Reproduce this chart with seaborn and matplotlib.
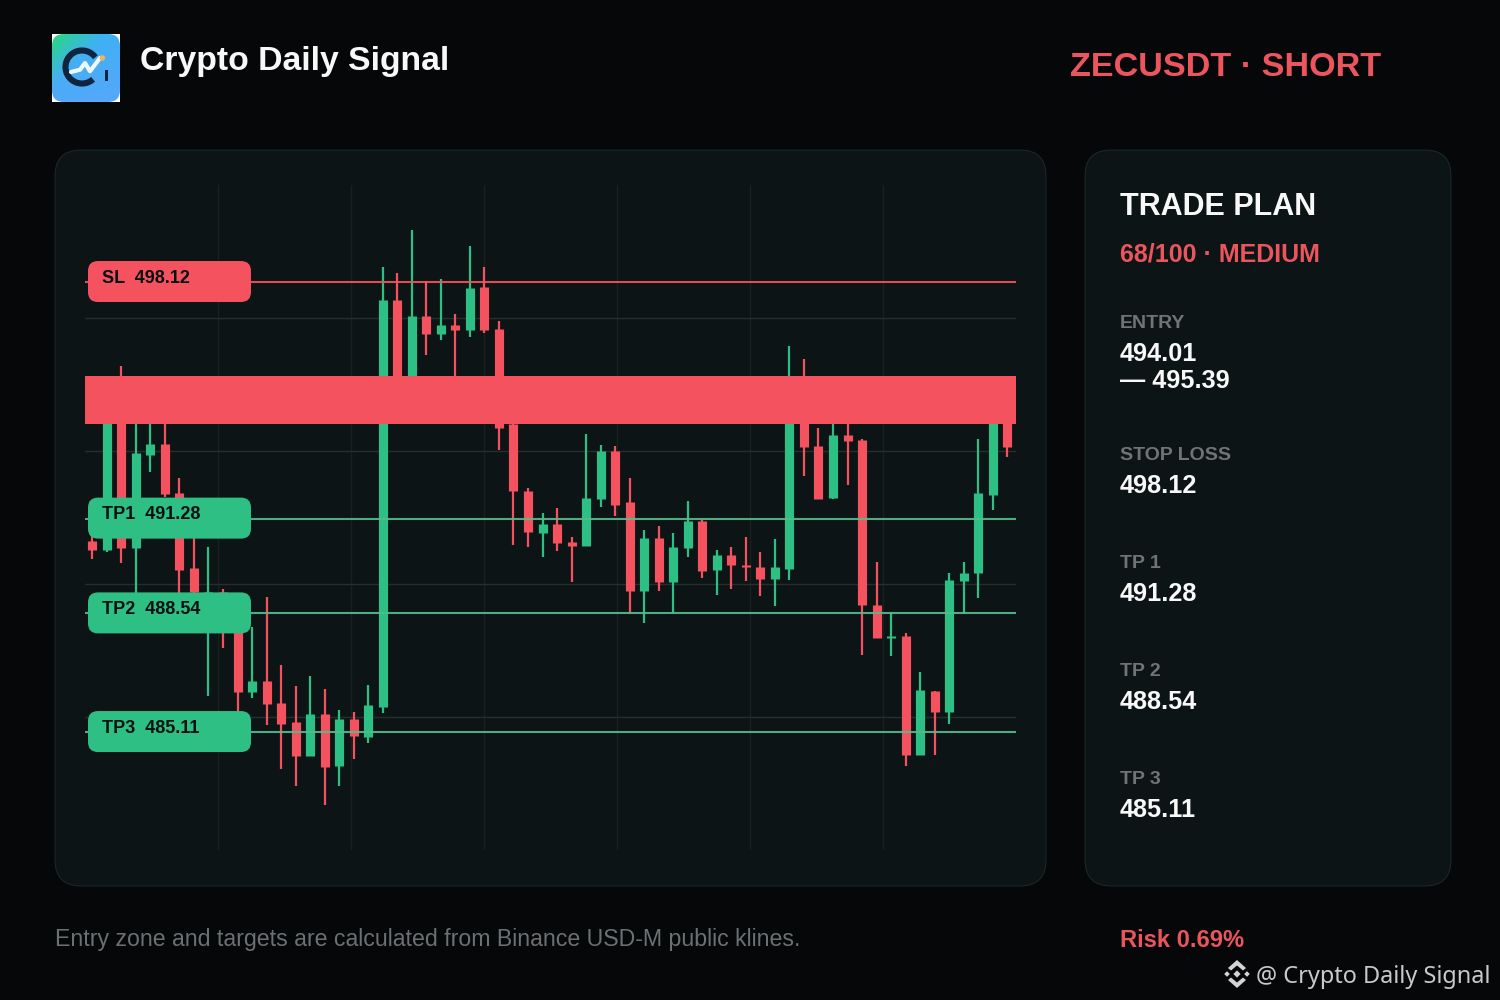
import numpy as np
import pandas as pd
import matplotlib
matplotlib.use("Agg")
import matplotlib.pyplot as plt
from matplotlib.patches import FancyBboxPatch, Polygon, Arc, Circle, Rectangle
import seaborn as sns

# candles
opens = [490.63, 490.37, 495.14, 490.43, 493.12, 493.44, 492.02, 489.85, 488.99, 489.16, 488.20, 486.27, 486.59, 485.95, 485.40, 484.42,
         485.63, 484.13, 485.49, 484.97, 485.83, 497.60, 494.71, 497.14, 496.62, 496.88, 496.73, 497.98, 496.76, 494.02, 492.08, 490.86,
         491.12, 490.60, 490.49, 491.85, 493.23, 491.76, 489.19, 490.72, 489.45, 490.43, 491.21, 489.79, 490.23, 489.94, 489.88, 489.53,
         489.82, 494.71, 493.38, 491.88, 493.70, 493.55, 488.78, 487.83, 487.89, 484.45, 486.30, 485.69, 489.48, 489.71, 491.96, 494.71]
highs = [490.89, 495.00, 495.69, 494.13, 494.13, 494.13, 492.45, 490.95, 490.46, 489.25, 488.55, 488.15, 489.01, 487.05, 486.44, 486.73,
         486.35, 485.75, 485.69, 486.47, 498.55, 498.38, 499.62, 498.15, 498.21, 497.20, 499.16, 498.55, 496.99, 494.13, 492.16, 491.44,
         491.59, 490.75, 493.73, 493.41, 493.38, 492.45, 490.95, 491.07, 490.86, 491.79, 491.25, 490.37, 490.46, 490.75, 490.31, 490.69,
         496.27, 495.89, 493.90, 494.13, 494.13, 493.58, 490.03, 488.58, 487.97, 486.85, 486.30, 489.71, 490.03, 493.58, 494.30, 494.85]
lows = [490.11, 490.31, 490.00, 489.07, 492.63, 491.90, 489.04, 488.93, 486.15, 487.54, 485.60, 486.09, 485.31, 484.04, 483.55, 484.42,
        483.00, 483.55, 484.33, 484.79, 485.66, 494.56, 494.42, 496.01, 496.44, 494.85, 496.53, 496.65, 493.26, 490.52, 490.46, 490.17,
        490.34, 489.45, 490.49, 491.62, 491.36, 488.55, 488.26, 489.19, 488.55, 490.17, 489.56, 489.07, 489.25, 489.48, 489.04, 488.75,
        489.51, 492.51, 491.85, 491.85, 492.25, 487.34, 487.83, 487.31, 484.13, 484.45, 484.45, 485.34, 488.52, 488.99, 491.53, 493.06]
closes = [490.37, 494.71, 490.43, 493.18, 493.44, 491.99, 489.79, 489.16, 489.16, 488.35, 486.27, 486.59, 485.92, 485.34, 484.42, 485.63,
          484.10, 485.49, 484.99, 485.89, 497.60, 494.85, 497.14, 496.62, 496.88, 496.73, 497.95, 496.73, 493.90, 492.08, 490.89, 491.12,
          490.57, 490.49, 491.88, 493.23, 491.67, 489.19, 490.72, 489.45, 490.46, 491.21, 489.77, 490.23, 489.94, 489.88, 489.53, 489.88,
          495.14, 493.35, 491.85, 493.70, 493.52, 488.78, 487.83, 487.89, 484.45, 486.33, 485.69, 489.51, 489.71, 492.02, 494.13, 493.35]

entry_low, entry_high = 494.01, 495.39
level_names = ["SL", "TP1", "TP2", "TP3"]
level_values = [498.12, 491.28, 488.54, 485.11]

plan_labels = ["STOP LOSS", "TP 1", "TP 2", "TP 3"]
plan_values = ["498.12", "491.28", "488.54", "485.11"]

BG = "#050709"
PANEL = "#0c1415"
EDGE = "#1f2a29"
RED = "#f5525f"
RED_TEXT = "#ea555e"
GREEN = "#2ebf85"
GREY = "#6f7575"
WHITE = "#f8f8f8"
BOLD = "Liberation Sans"

sns.set_theme(style="dark")
plt.rcParams["font.family"] = ["Liberation Sans", "DejaVu Sans"]

fig = plt.figure(figsize=(15, 10), dpi=100, facecolor=BG)

# page overlay in pixels for panels and text
bg = fig.add_axes([0, 0, 1, 1], zorder=0)
bg.set_xlim(0, 1500)
bg.set_ylim(1000, 0)
bg.axis("off")
for x0, y0, x1, y1 in [(55, 150, 1046, 886), (1085, 150, 1451, 886)]:
    bg.add_patch(FancyBboxPatch((x0 + 26, y0 + 26), x1 - x0 - 52, y1 - y0 - 52,
                                boxstyle="round,pad=26,rounding_size=26",
                                fc=PANEL, ec=EDGE, lw=0.7))

# candles
df = pd.DataFrame({"i": np.arange(len(opens)), "open": opens, "high": highs, "low": lows, "close": closes})
df["dir"] = np.where(df["close"] >= df["open"], "up", "down")
palette = {"up": GREEN, "down": RED}
wicks = df.melt(id_vars=["i", "dir"], value_vars=["high", "low"], value_name="price")
bodies = df.melt(id_vars=["i", "dir"], value_vars=["open", "close"], value_name="price")

ax = fig.add_axes([85 / 1500, 150 / 1000, 931 / 1500, 665 / 1000], zorder=1)
ax.patch.set_alpha(0)
sns.lineplot(data=wicks, x="i", y="price", hue="dir", units="i", estimator=None, palette=palette,
             linewidth=1.6, legend=False, ax=ax, zorder=2, solid_capstyle="butt")
sns.lineplot(data=bodies, x="i", y="price", hue="dir", units="i", estimator=None, palette=palette,
             linewidth=6.6, legend=False, ax=ax, zorder=2.1, solid_capstyle="butt")

ax.set_xlim(-0.5, 63.6)
ax.set_ylim(481.70, 500.925)
ax.axhspan(entry_low, entry_high, color=RED, lw=0, zorder=4)
for name, val in zip(level_names, level_values):
    ax.axhline(val, color=RED if name == "SL" else "#55bb8b", lw=1.5, zorder=3, alpha=0.92)

ax.set_xticks(np.linspace(-0.5, 63.6, 8)[1:-1])
ax.set_yticks(np.linspace(481.70, 500.925, 6)[1:-1])
ax.tick_params(length=0, labelbottom=False, labelleft=False)
ax.set_xlabel("")
ax.set_ylabel("")
ax.grid(axis="x", color="#18211f", lw=1)
ax.grid(axis="y", color="#262f2e", lw=1)
ax.set_axisbelow(True)
sns.despine(ax=ax, left=True, bottom=True)

# top overlay for labels and text
top = fig.add_axes([0, 0, 1, 1], zorder=2)
top.set_xlim(0, 1500)
top.set_ylim(1000, 0)
top.axis("off")

for name, val in zip(level_names, level_values):
    y = 1000 - ax.transData.transform((0, val))[1]
    col = RED if name == "SL" else GREEN
    top.add_patch(FancyBboxPatch((98, y - 11), 143, 21, boxstyle="round,pad=10,rounding_size=10",
                                 fc=col, ec="none"))
    top.text(102, y + 0.5, f"{name}  {val:.2f}", color="#0b1112", fontsize=13, fontweight="bold",
             family=BOLD, va="baseline")

top.text(140.5, 70, "Crypto Daily Signal", color=WHITE, fontsize=24.3, fontweight="bold", family=BOLD)
top.text(1069.5, 76, "ZECUSDT · SHORT", color=RED_TEXT, fontsize=24.6, fontweight="bold", family=BOLD)
top.text(1120, 215, "TRADE PLAN", color=WHITE, fontsize=22, fontweight="bold", family=BOLD)
top.text(1120, 261, "68/100 · MEDIUM", color=RED_TEXT, fontsize=18, fontweight="bold", family=BOLD)

top.text(1120, 328, "ENTRY", color=GREY, fontsize=14, fontweight="bold", family=BOLD)
top.text(1120, 361, f"{entry_low:.2f}", color=WHITE, fontsize=18.2, fontweight="bold", family=BOLD)
top.text(1120, 388, f"— {entry_high:.2f}", color=WHITE, fontsize=18.2, fontweight="bold", family=BOLD)
for lab, val, y0 in zip(plan_labels, plan_values, [460, 568, 676, 784]):
    top.text(1120, y0, lab, color=GREY, fontsize=14, fontweight="bold", family=BOLD)
    top.text(1120, y0 + 33, val, color=WHITE, fontsize=18.2, fontweight="bold", family=BOLD)

top.text(55, 946, "Entry zone and targets are calculated from Binance USD-M public klines.",
         color="#6b7072", fontsize=16.7, family=BOLD)
top.text(1120, 947, "Risk 0.69%", color=RED_TEXT, fontsize=17.1, fontweight="bold", family=BOLD)
top.text(1256, 983, "@ Crypto Daily Signal", color="#c9c9c9", fontsize=16.95, family="Noto Sans")

# binance style mark next to the watermark
cx, cy = 1237, 974
MARK = "#d4d4d4"
for dx, s in [(-10, 2.8), (10, 2.8), (0, 3.6)]:
    top.add_patch(Polygon([(cx + dx, cy - s), (cx + dx + s, cy), (cx + dx, cy + s), (cx + dx - s, cy)],
                          fc=MARK, ec="none"))
for sgn in (-1, 1):
    top.add_patch(Polygon([(cx - 9, cy + sgn * 6), (cx, cy + sgn * 14), (cx + 9, cy + sgn * 6), (cx + 6, cy + sgn * 3.5),
                           (cx, cy + sgn * 8.5), (cx - 6, cy + sgn * 3.5)], fc=MARK, ec="none"))

# logo tile
logo = fig.add_axes([52 / 1500, (1000 - 102) / 1000, 68 / 1500, 68 / 1000], zorder=3)
logo.set_xlim(0, 68)
logo.set_ylim(68, 0)
logo.axis("off")
logo.add_patch(Rectangle((0, 0), 68, 68, fc="white", ec="none"))
u, v = np.meshgrid(np.linspace(0, 1, 80), np.linspace(0, 1, 80))
t = np.clip(0.25 * u + 0.85 * v, 0, 1)[..., None]
c0, c1, c2 = np.array([0.18, 0.82, 0.58]), np.array([0.22, 0.70, 0.95]), np.array([0.33, 0.66, 0.98])
corner = np.clip(1.25 - (u + v) * 1.6, 0, 1)[..., None]
grad = corner * c0 + (1 - corner) * (c1 * (1 - t) + c2 * t)
im = logo.imshow(grad, extent=(0, 68, 68, 0), aspect="auto", zorder=1)
clip = FancyBboxPatch((12, 12), 44, 44, boxstyle="round,pad=12,rounding_size=12", fc="none", ec="none",
                      transform=logo.transData)
logo.add_patch(clip)
im.set_clip_path(clip)
logo.add_patch(Arc((30, 33), 33, 33, theta1=48, theta2=324, color="#10233f", lw=4.4, zorder=2))
logo.plot([19, 28, 33, 38, 48], [38, 35.7, 29, 37.3, 24], color="#eefaf8", lw=3, zorder=3, solid_joinstyle="round")
logo.add_patch(Circle((50.3, 24), 2.8, fc="#f2b45a", ec="none", zorder=4))
logo.add_patch(Rectangle((53, 35.7), 3.3, 11, fc="#10233f", ec="none", zorder=4))
logo.set_xlim(0, 68)
logo.set_ylim(68, 0)

fig.savefig("out.png", dpi=100, facecolor=BG)
plt.close(fig)
